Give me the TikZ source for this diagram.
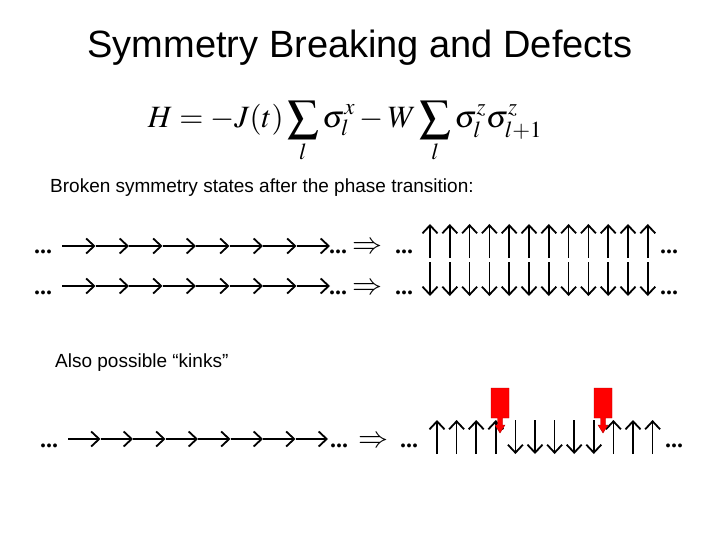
\documentclass[tikz,border=0pt]{standalone}
\usepackage{mathptmx}
\usepackage{fontspec}
\setmainfont{Liberation Sans}
\newfontfamily\tnr{Liberation Serif}
\usetikzlibrary{arrows.meta}
\begin{document}
\begin{tikzpicture}[x=1pt,y=-1pt,
  sp/.style={line width=1.6pt,-{Straight Barb[length=8pt,width=15pt,line width=1.8pt]}},
  dots/.style={font=\tnr\bfseries\fontsize{24}{24}\selectfont,inner sep=0pt,anchor=base west},
  impl/.style={font=\fontsize{30}{30}\selectfont,inner sep=0pt,anchor=base west}]
\useasboundingbox (0,0) rectangle (720,540);
\node[font=\fontsize{38}{40}\selectfont] (title) at (360,48) {Symmetry Breaking and Defects};
\node[font=\fontsize{31}{33}\selectfont] (eq) at (345,132)
  {$\displaystyle H = -J(t)\sum_{l}\sigma_l^x - W\sum_{l}\sigma_l^z\sigma_{l+1}^z$};
\node[anchor=base west,font=\fontsize{19}{20}\selectfont,inner sep=0pt] (t1) at (50,193) {Broken symmetry states after the phase transition:};
\node[anchor=base west,font=\fontsize{19}{20}\selectfont,inner sep=0pt] (t2) at (55,367) {Also possible “kinks”};
% rows 1 and 2
\foreach \y/\dir in {254/1,294/-1}{
  \node[dots] at (34,\y) {...};
  \foreach \i in {0,...,7} \draw[sp] (62+33.5*\i,\y-8) -- (95.5+33.5*\i,\y-8);
  \node[dots] at (329,\y) {...};
  \node[impl] at (352,\y) {$\Rightarrow$};
  \node[dots] at (395,\y) {...};
  \foreach \i in {0,...,11}{
    \ifnum\dir=1 \draw[sp] (430+19.8*\i,\y+4) -- (430+19.8*\i,\y-30);
    \else \draw[sp] (430+19.8*\i,\y-32) -- (430+19.8*\i,\y+2);\fi}
  \node[dots] at (660,\y) {...};
}
% kink row
\node[dots] at (40,447) {...};
\foreach \i in {0,...,7} \draw[sp] (68+32.5*\i,439) -- (100.5+32.5*\i,439);
\node[dots] at (330,447) {...};
\node[impl] at (358,447) {$\Rightarrow$};
\node[dots] at (400,447) {...};
\foreach \i in {0,...,11}{
  \pgfmathtruncatemacro\d{(\i>3)&&(\i<9)}
  \ifnum\d=1 \draw[sp] (437+19.6*\i,420) -- (437+19.6*\i,454);
  \else \draw[sp] (437+19.6*\i,454) -- (437+19.6*\i,420);\fi}
\node[dots] at (665,447) {...};
\foreach \x in {500,603}{
  \draw[fill=red,draw=red!70!black,line width=0.4pt]
   (\x-9,388) -- (\x+9,388) -- (\x+9,418) -- (\x+2.5,418) -- (\x+2.5,425) -- (\x+5,425)
   -- (\x,433) -- (\x-5,425) -- (\x-2.5,425) -- (\x-2.5,418) -- (\x-9,418) -- cycle;
}
\end{tikzpicture}
\end{document}
